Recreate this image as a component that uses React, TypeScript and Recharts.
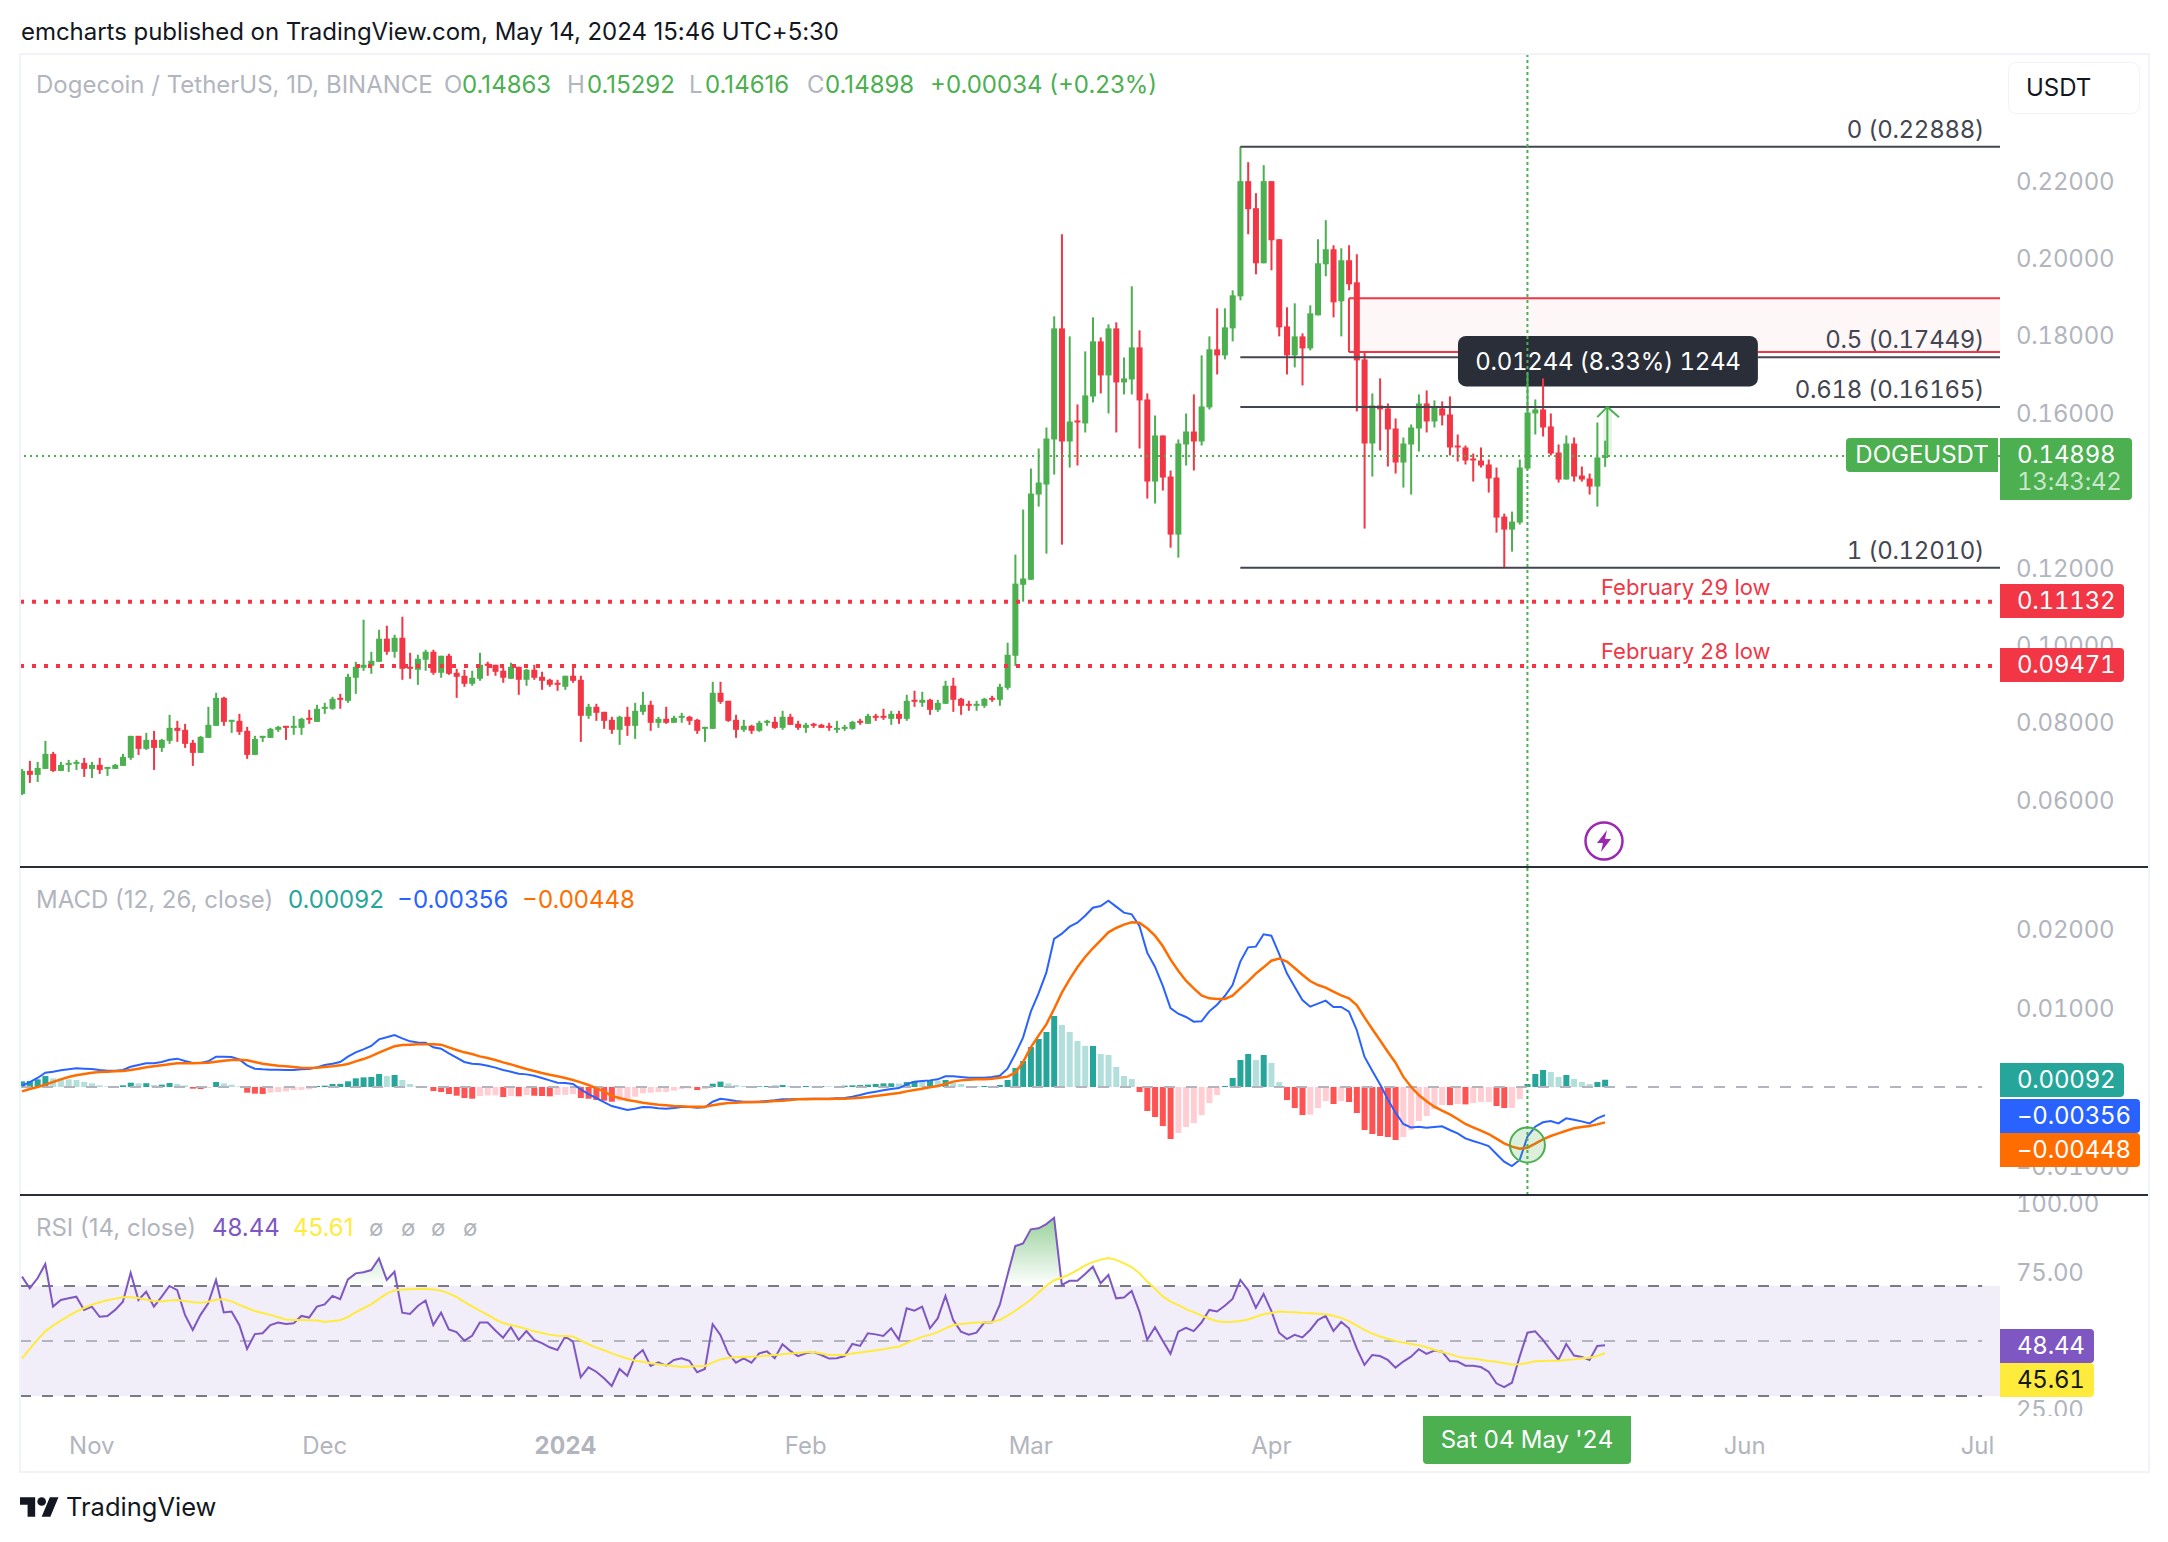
import {
  Area,
  Bar,
  Cell,
  ComposedChart,
  Line,
  ReferenceArea,
  ReferenceDot,
  ReferenceLine,
  XAxis,
  YAxis,
} from 'recharts'

const FONT = 'Inter, "Noto Sans", sans-serif'
const GREEN = '#4caf50'
const RED = '#f23645'
const AXIS_GREY = '#b2b5be'

// days since 23 Oct 2023, one candle per day
const opens = [
  0.06163, 0.06758, 0.06655, 0.0681, 0.07198, 0.06758, 0.06914, 0.0694, 0.06965, 0.0681,
  0.06914, 0.0681, 0.0681, 0.06888, 0.07095, 0.07664, 0.07328, 0.0756, 0.07353, 0.07535,
  0.07871, 0.07819, 0.07483, 0.07224, 0.07612, 0.07923, 0.08647, 0.08026, 0.08052, 0.07793,
  0.07172, 0.07612, 0.07612, 0.07819, 0.07923, 0.07871, 0.07871, 0.0813, 0.08026, 0.08363,
  0.08363, 0.08647, 0.08569, 0.09165, 0.09423, 0.09475, 0.09578, 0.10174, 0.09837, 0.10199,
  0.09449, 0.09372, 0.0963, 0.09837, 0.09294, 0.09734, 0.09294, 0.09216, 0.09009, 0.09139,
  0.09527, 0.09501, 0.09346, 0.09139, 0.09449, 0.09113, 0.09372, 0.09191, 0.09113, 0.09035,
  0.08932, 0.09217, 0.09113, 0.08182, 0.08415, 0.08285, 0.08078, 0.0782, 0.08156, 0.07923,
  0.08285, 0.08466, 0.08001, 0.08104, 0.08001, 0.0813, 0.08156, 0.08078, 0.07845, 0.07845,
  0.08777, 0.0857, 0.08078, 0.0782, 0.07923, 0.07794, 0.08001, 0.08026, 0.07871, 0.08156,
  0.07975, 0.07871, 0.07975, 0.07949, 0.07923, 0.0782, 0.07845, 0.07845, 0.08052, 0.07975,
  0.08182, 0.08182, 0.08104, 0.08233, 0.08104, 0.08596, 0.08518, 0.08596, 0.08337, 0.08492,
  0.08958, 0.08622, 0.08492, 0.0844, 0.0844, 0.08647, 0.08596, 0.08906, 0.09734, 0.11568,
  0.11698, 0.139, 0.14158, 0.15323, 0.18194, 0.15271, 0.15814, 0.15737, 0.16435, 0.17858,
  0.16978, 0.18194, 0.16797, 0.16875, 0.17703, 0.16357, 0.14236, 0.15426, 0.14365, 0.12865,
  0.15193, 0.15529, 0.15271, 0.16151, 0.17651, 0.17496, 0.18194, 0.19022, 0.21998, 0.21299,
  0.19876, 0.21998, 0.20497, 0.18246, 0.17496, 0.17987, 0.17677, 0.18531, 0.1985, 0.20238,
  0.18893, 0.19954, 0.19384, 0.17392, 0.15219, 0.16202, 0.16125, 0.15607, 0.14727, 0.15193,
  0.15607, 0.16254, 0.15788, 0.16125, 0.15969, 0.15167, 0.15116, 0.14831, 0.14779, 0.14676,
  0.14339, 0.1333, 0.12994, 0.13175, 0.14572, 0.15995, 0.16099, 0.15659, 0.14986, 0.14288,
  0.15219, 0.14391, 0.14314, 0.14107, 0.14863,
]
const highs = [
  0.0681, 0.07017, 0.06991, 0.07535, 0.0725, 0.06991, 0.07043, 0.07043, 0.07095, 0.06991,
  0.07095, 0.06862, 0.0694, 0.07198, 0.07664, 0.07664, 0.07742, 0.07793, 0.07586, 0.08207,
  0.08052, 0.07974, 0.0756, 0.07664, 0.08414, 0.08776, 0.08673, 0.08078, 0.08233, 0.07897,
  0.07664, 0.07664, 0.07871, 0.07923, 0.07923, 0.08181, 0.0813, 0.08337, 0.08466, 0.08518,
  0.08673, 0.08751, 0.09268, 0.09578, 0.10665, 0.09837, 0.10406, 0.1051, 0.10277, 0.10743,
  0.09811, 0.0976, 0.09889, 0.09889, 0.09734, 0.09785, 0.09397, 0.09372, 0.09346, 0.09811,
  0.09578, 0.09501, 0.09423, 0.09553, 0.09449, 0.09398, 0.09501, 0.0932, 0.09139, 0.09113,
  0.09217, 0.09475, 0.09217, 0.08492, 0.08492, 0.08285, 0.08156, 0.08182, 0.08415, 0.08518,
  0.08803, 0.0857, 0.08156, 0.08415, 0.08182, 0.08259, 0.08182, 0.08104, 0.07897, 0.09061,
  0.09061, 0.0857, 0.08208, 0.08078, 0.07949, 0.08052, 0.08078, 0.08156, 0.08311, 0.08233,
  0.08052, 0.08001, 0.08001, 0.07975, 0.08001, 0.08052, 0.07949, 0.08052, 0.08104, 0.08233,
  0.08233, 0.08363, 0.08311, 0.08311, 0.08725, 0.08829, 0.08803, 0.08622, 0.08596, 0.09087,
  0.09165, 0.08647, 0.0857, 0.0857, 0.08647, 0.08699, 0.0901, 0.1007, 0.12347, 0.13511,
  0.14572, 0.1509, 0.15633, 0.18505, 0.20626, 0.17987, 0.16228, 0.17599, 0.18479, 0.17961,
  0.18298, 0.1835, 0.17444, 0.19281, 0.18143, 0.16513, 0.15943, 0.15426, 0.14521, 0.15323,
  0.15995, 0.16487, 0.17496, 0.17987, 0.18712, 0.18712, 0.19177, 0.22888, 0.22489, 0.21687,
  0.22411, 0.21998, 0.20497, 0.18738, 0.18841, 0.18065, 0.18789, 0.20497, 0.20989, 0.20342,
  0.20264, 0.20342, 0.20109, 0.17582, 0.16513, 0.16901, 0.16254, 0.15866, 0.15374, 0.15711,
  0.16487, 0.1659, 0.16332, 0.16306, 0.16435, 0.15452, 0.15167, 0.1496, 0.15116, 0.14805,
  0.14598, 0.13408, 0.1346, 0.14805, 0.1703, 0.16357, 0.16901, 0.15995, 0.15193, 0.15426,
  0.15374, 0.14624, 0.14443, 0.15762, 0.15292,
]
const lows = [
  0.06137, 0.06448, 0.06474, 0.0681, 0.06733, 0.06758, 0.06733, 0.06784, 0.06603, 0.06577,
  0.06681, 0.06629, 0.0681, 0.06888, 0.07043, 0.07172, 0.07302, 0.06784, 0.0725, 0.07457,
  0.07509, 0.07353, 0.06888, 0.07224, 0.07612, 0.07923, 0.07923, 0.07742, 0.0769, 0.07069,
  0.07172, 0.07509, 0.07612, 0.07767, 0.0756, 0.0769, 0.0769, 0.07974, 0.08026, 0.08233,
  0.08337, 0.08363, 0.08518, 0.08751, 0.09346, 0.09268, 0.09578, 0.0976, 0.09682, 0.09113,
  0.09139, 0.08983, 0.09346, 0.09242, 0.09165, 0.09242, 0.08647, 0.08932, 0.08958, 0.09087,
  0.09216, 0.09216, 0.09035, 0.09139, 0.08725, 0.08958, 0.09113, 0.08854, 0.08932, 0.08829,
  0.08854, 0.09035, 0.07509, 0.08104, 0.08052, 0.07845, 0.07716, 0.07431, 0.07664, 0.07587,
  0.08208, 0.07794, 0.07871, 0.07975, 0.08001, 0.08001, 0.07949, 0.07716, 0.07509, 0.07845,
  0.08492, 0.08026, 0.07613, 0.07768, 0.07716, 0.07768, 0.07923, 0.07845, 0.0782, 0.07949,
  0.0782, 0.07742, 0.07871, 0.07871, 0.07794, 0.07742, 0.07794, 0.0782, 0.07949, 0.07975,
  0.08052, 0.08078, 0.07949, 0.07975, 0.08052, 0.08415, 0.08415, 0.08208, 0.08285, 0.08492,
  0.08285, 0.08208, 0.08311, 0.08311, 0.08389, 0.08544, 0.0844, 0.08854, 0.09471, 0.11132,
  0.11698, 0.13589, 0.12373, 0.14417, 0.12606, 0.14598, 0.1465, 0.15504, 0.1628, 0.16513,
  0.15995, 0.15504, 0.16487, 0.16487, 0.1509, 0.13796, 0.13667, 0.14003, 0.12528, 0.1227,
  0.1465, 0.14521, 0.15167, 0.16099, 0.17004, 0.17392, 0.17858, 0.18919, 0.20626, 0.19591,
  0.19876, 0.19695, 0.17987, 0.17004, 0.17185, 0.1672, 0.17625, 0.18531, 0.1954, 0.18479,
  0.17987, 0.19177, 0.16047, 0.1302, 0.14365, 0.15038, 0.14624, 0.14443, 0.14081, 0.139,
  0.15012, 0.15504, 0.15633, 0.15685, 0.14909, 0.14753, 0.14676, 0.14236, 0.14598, 0.13951,
  0.12917, 0.1201, 0.12425, 0.13124, 0.14546, 0.15452, 0.154, 0.14909, 0.1421, 0.14288,
  0.14236, 0.14236, 0.139, 0.13589, 0.14616,
]
const closes = [
  0.06758, 0.06655, 0.06836, 0.07198, 0.06758, 0.06914, 0.06965, 0.06991, 0.0681, 0.06914,
  0.06784, 0.06862, 0.06914, 0.07121, 0.07664, 0.07328, 0.0756, 0.07353, 0.0756, 0.07871,
  0.07793, 0.07457, 0.07224, 0.07638, 0.07949, 0.08647, 0.08026, 0.08078, 0.07767, 0.07172,
  0.07586, 0.07664, 0.07845, 0.07897, 0.07871, 0.07923, 0.08104, 0.08078, 0.08363, 0.08414,
  0.08621, 0.08595, 0.0919, 0.09449, 0.09501, 0.09604, 0.10174, 0.09837, 0.10199, 0.09397,
  0.09397, 0.09656, 0.09837, 0.09294, 0.09734, 0.09268, 0.0919, 0.09009, 0.09165, 0.09501,
  0.09475, 0.0932, 0.09165, 0.09449, 0.09113, 0.09372, 0.09165, 0.09087, 0.08984, 0.08984,
  0.09217, 0.09087, 0.08182, 0.08415, 0.08259, 0.08052, 0.0782, 0.08156, 0.07923, 0.08311,
  0.08466, 0.08001, 0.08104, 0.08001, 0.0813, 0.08182, 0.08052, 0.07794, 0.07897, 0.08777,
  0.08544, 0.08052, 0.0782, 0.07923, 0.07794, 0.08001, 0.08052, 0.07871, 0.08156, 0.07949,
  0.07871, 0.07949, 0.07923, 0.07871, 0.07871, 0.07871, 0.07897, 0.08026, 0.08001, 0.08182,
  0.0813, 0.0813, 0.08233, 0.08104, 0.0857, 0.08544, 0.08596, 0.08337, 0.08518, 0.08958,
  0.08596, 0.0844, 0.0844, 0.08492, 0.08622, 0.08596, 0.08932, 0.0976, 0.11597, 0.1173,
  0.13925, 0.1421, 0.15348, 0.18194, 0.15271, 0.15788, 0.15762, 0.16461, 0.17858, 0.16978,
  0.18194, 0.16797, 0.16901, 0.17703, 0.16332, 0.14236, 0.15426, 0.14339, 0.12865, 0.15219,
  0.15529, 0.15271, 0.16176, 0.17651, 0.17496, 0.1822, 0.19048, 0.21998, 0.21273, 0.19876,
  0.21998, 0.20471, 0.1822, 0.17496, 0.17987, 0.17677, 0.18582, 0.19876, 0.20238, 0.18867,
  0.19954, 0.19333, 0.17367, 0.15219, 0.16202, 0.16099, 0.15581, 0.14727, 0.15219, 0.15633,
  0.16254, 0.15788, 0.16151, 0.15943, 0.15116, 0.15116, 0.14779, 0.14779, 0.1465, 0.14314,
  0.13305, 0.12994, 0.13201, 0.14598, 0.16021, 0.16099, 0.15633, 0.1496, 0.14288, 0.15219,
  0.14365, 0.14288, 0.14107, 0.14857, 0.14898,
]

// MACD pane, in units of 0.00001
const macdLine = [
  13, 63, 114, 181, 194, 211, 224, 236, 232, 228, 215, 207, 207, 215, 257, 279, 300, 300, 317, 346,
  359, 329, 304, 304, 325, 384, 384, 380, 350, 274, 232, 224, 219, 219, 215, 215, 224, 228, 249, 279,
  295, 317, 384, 439, 477, 519, 603, 629, 658, 616, 578, 565, 561, 502, 485, 426, 371, 317, 295, 287,
  270, 245, 215, 194, 169, 160, 143, 114, 84, 55, 51, 38, -30, -89, -139, -190, -241, -266, -291, -274,
  -253, -257, -270, -274, -266, -253, -253, -262, -257, -186, -148, -160, -177, -186, -186, -186, -177, -169, -156, -156,
  -152, -148, -148, -148, -148, -143, -139, -122, -101, -76, -59, -42, -25, -13, 34, 68, 76, 84, 97, 135,
  135, 127, 118, 118, 118, 127, 143, 232, 418, 625, 954, 1186, 1447, 1874, 1941, 2030, 2080, 2169, 2270, 2291,
  2359, 2283, 2207, 2186, 2038, 1701, 1523, 1283, 1000, 928, 886, 827, 831, 958, 1042, 1152, 1291, 1587, 1768, 1777,
  1933, 1916, 1684, 1439, 1270, 1101, 1017, 1055, 1093, 1013, 1013, 954, 722, 384, 207, 34, -156, -325, -468, -511,
  -502, -515, -506, -498, -544, -587, -650, -684, -713, -747, -848, -945, -1000, -924, -629, -502, -447, -430, -460, -397,
  -414, -435, -460, -397, -356,
]
const signalLine = [
  -55, -25, 0, 30, 63, 97, 127, 148, 165, 181, 190, 194, 198, 203, 215, 232, 249, 262, 274, 287,
  300, 300, 300, 304, 308, 321, 333, 342, 346, 338, 317, 295, 283, 270, 262, 253, 245, 241, 245, 253,
  262, 274, 291, 325, 354, 392, 435, 477, 515, 532, 536, 540, 540, 540, 536, 502, 468, 439, 418, 388,
  367, 342, 312, 287, 257, 228, 203, 177, 156, 135, 114, 89, 59, 25, -13, -55, -114, -139, -165, -181,
  -198, -211, -224, -232, -241, -245, -249, -249, -249, -232, -215, -203, -198, -194, -194, -190, -186, -177, -173, -165,
  -156, -156, -152, -152, -152, -148, -148, -143, -135, -127, -114, -101, -89, -76, -55, -38, -21, -4, 13, 38,
  68, 84, 93, 97, 97, 106, 118, 131, 181, 317, 502, 650, 793, 987, 1194, 1363, 1515, 1646, 1756, 1857,
  1958, 2013, 2055, 2085, 2080, 2009, 1916, 1785, 1616, 1473, 1346, 1249, 1160, 1123, 1114, 1114, 1156, 1249, 1338, 1435,
  1515, 1599, 1625, 1587, 1507, 1422, 1342, 1291, 1258, 1207, 1160, 1123, 1038, 882, 734, 591, 447, 308, 131, 4,
  -101, -181, -249, -300, -346, -405, -468, -511, -553, -595, -654, -713, -755, -781, -768, -717, -663, -620, -587, -553,
  -523, -506, -494, -473, -448,
]
const macdHist = [
  72, 76, 97, 139, 110, 108, 97, 89, 63, 46, 21, 8, 6, 21, 55, 46, 48, 25, 30, 51,
  38, 21, -21, -25, -13, 63, 46, 30, 8, -72, -84, -88, -72, -63, -55, -38, -36, -30, 13, 17,
  38, 40, 72, 110, 122, 127, 165, 139, 152, 89, 38, 13, 4, -51, -63, -89, -110, -139, -148, -114,
  -106, -105, -127, -114, -118, -101, -110, -114, -118, -101, -100, -89, -139, -148, -165, -173, -186, -173, -156, -122,
  -80, -72, -63, -62, -46, -25, -17, -38, -25, 42, 68, 46, 25, 13, 8, 8, 13, 17, 25, 13,
  8, 13, 8, 13, 8, 13, 17, 21, 25, 30, 38, 46, 47, 44, 63, 76, 72, 84, 80, 89,
  55, 38, 13, 12, 13, 12, 25, 89, 241, 329, 506, 608, 696, 899, 785, 696, 582, 519, 520, 418,
  405, 253, 139, 101, -63, -304, -380, -494, -658, -582, -506, -456, -354, -203, -101, 13, 114, 342, 418, 342,
  405, 304, 63, -165, -266, -354, -350, -266, -177, -215, -177, -190, -329, -544, -595, -620, -633, -671, -633, -544,
  -430, -367, -279, -228, -229, -215, -220, -203, -190, -189, -241, -266, -265, -152, 38, 165, 215, 190, 127, 152,
  101, 63, 38, 63, 92,
]

// RSI pane
const rsiLine = [
  73.4, 69.2, 72.8, 78.0, 62.5, 64.9, 65.5, 66.1, 61.3, 62.5, 58.8, 59.1, 61.3, 64.3, 74.8, 64.9, 67.9, 62.5, 66.1, 70.0,
  68.5, 59.5, 54.0, 59.5, 63.7, 72.2, 60.4, 60.7, 55.8, 47.1, 52.5, 52.8, 55.8, 56.7, 56.2, 56.4, 59.1, 58.5, 62.5, 63.3,
  66.4, 65.2, 72.4, 74.6, 75.0, 75.8, 80.0, 72.2, 75.2, 60.3, 59.8, 62.7, 64.7, 55.8, 60.3, 54.2, 53.2, 50.1, 51.9, 56.7,
  56.7, 53.8, 51.2, 55.0, 50.4, 53.6, 50.4, 49.2, 47.7, 46.7, 51.6, 49.8, 36.8, 40.4, 38.8, 36.4, 33.6, 39.8, 37.3, 44.3,
  46.7, 40.9, 42.2, 41.0, 43.1, 43.7, 42.8, 38.6, 39.8, 56.1, 52.2, 45.5, 42.1, 43.7, 42.1, 45.5, 46.2, 43.7, 48.8, 46.4,
  44.5, 45.5, 46.0, 44.9, 43.6, 43.7, 44.5, 48.9, 48.2, 52.8, 52.4, 51.8, 54.6, 50.4, 61.9, 61.0, 62.5, 54.6, 58.2, 66.4,
  57.6, 53.4, 52.3, 53.0, 56.7, 56.8, 63.1, 74.0, 84.5, 85.5, 90.6, 91.0, 92.5, 94.8, 70.4, 71.9, 71.9, 74.4, 77.0, 71.0,
  74.0, 65.5, 65.8, 68.2, 60.7, 50.4, 55.0, 50.1, 45.3, 53.4, 54.8, 53.6, 56.7, 61.3, 60.7, 62.8, 65.3, 72.2, 68.5, 62.1,
  67.1, 60.9, 53.0, 50.7, 52.2, 51.3, 54.0, 57.6, 59.1, 53.6, 56.9, 54.6, 47.3, 41.3, 44.9, 44.5, 43.1, 40.3, 42.5, 44.3,
  47.0, 45.3, 46.5, 46.1, 42.7, 42.5, 41.0, 41.0, 40.5, 38.8, 34.6, 33.2, 34.8, 44.3, 53.0, 53.5, 50.4, 46.7, 43.1, 48.9,
  44.7, 44.2, 43.1, 48.2, 48.44,
]
const rsiAverage = [
  43.7, 47.1, 50.5, 53.5, 55.6, 57.4, 59.1, 60.7, 62.0, 63.2, 64.1, 64.8, 65.4, 65.9, 65.9, 65.6, 65.0, 64.5, 64.4, 64.7,
  64.9, 64.5, 64.1, 63.9, 64.3, 65.0, 65.2, 64.4, 63.1, 62.0, 60.9, 60.2, 59.5, 58.6, 57.8, 57.6, 57.6, 57.5, 57.4, 56.9,
  57.3, 57.5, 58.8, 60.4, 61.9, 63.3, 65.3, 67.2, 68.4, 68.7, 68.8, 68.9, 69.0, 68.7, 68.3, 67.3, 66.0, 64.2, 62.6, 61.0,
  59.5, 57.9, 56.5, 55.8, 55.2, 54.4, 53.5, 52.9, 52.3, 51.9, 51.8, 51.6, 50.2, 48.8, 47.6, 46.6, 45.5, 44.5, 43.6, 42.8,
  42.4, 41.9, 41.5, 41.2, 40.9, 40.5, 40.7, 40.8, 40.9, 42.1, 43.3, 43.8, 44.1, 44.2, 44.3, 44.4, 44.7, 44.9, 45.2, 45.4,
  45.6, 45.9, 46.0, 45.4, 44.9, 44.9, 44.9, 45.4, 45.8, 46.2, 46.6, 47.0, 47.5, 47.9, 49.2, 50.4, 51.5, 52.2, 53.2, 54.6,
  55.8, 56.2, 56.4, 56.7, 56.7, 56.9, 57.6, 59.2, 61.0, 63.0, 65.0, 67.6, 70.1, 72.1, 73.0, 74.2, 75.8, 77.5, 78.7, 79.6,
  80.2, 79.5, 78.2, 76.9, 74.6, 71.6, 69.0, 66.2, 64.4, 63.0, 61.6, 60.5, 59.2, 58.1, 57.2, 56.9, 57.0, 57.3, 57.8, 58.8,
  59.7, 60.2, 60.7, 60.5, 60.4, 60.2, 60.1, 59.9, 59.7, 59.2, 58.4, 57.2, 55.6, 54.0, 52.7, 51.6, 50.8, 50.0, 49.4, 48.9,
  48.4, 47.7, 46.8, 46.0, 45.2, 44.3, 43.8, 43.6, 43.2, 42.7, 42.4, 41.9, 41.4, 41.5, 42.0, 42.6, 42.7, 42.8, 42.8, 43.1,
  43.3, 43.7, 43.9, 44.5, 45.61,
]

const priceTicks = [0.06, 0.08, 0.1, 0.12, 0.16, 0.18, 0.2, 0.22]
const macdTicks = [-1000, 1000, 2000]
const rsiTicks = [25, 75, 100]
const monthTicks = [9, 39, 70, 101, 130, 161, 191, 222, 252]
const monthLabels = ['Nov', 'Dec', '2024', 'Feb', 'Mar', 'Apr', 'May', 'Jun', 'Jul']
const fibLevels = [
  { label: '0 (0.22888)', price: 0.22888 },
  { label: '0.5 (0.17449)', price: 0.17449 },
  { label: '0.618 (0.16165)', price: 0.16165 },
  { label: '1 (0.12010)', price: 0.1201 },
]
const supportLevels = [
  { label: 'February 29 low', price: 0.11132 },
  { label: 'February 28 low', price: 0.09471 },
]

const LAST_PRICE = 0.14898
const CROSS_DAY = 194
const X_DOMAIN: [number, number] = [-0.26, 254.9]
const PLOT_WIDTH = 2128
const AXIS_WIDTH = 148
const ZONE_TOP = 0.1897
const ZONE_BOTTOM = 0.17582
const ZONE_START = 171
// measure box, reference lines paint over areas so they stop at its edges
const BOX_LEFT = 185.05
const BOX_RIGHT = 223.7
const BOX_TOP = 0.18
const BOX_BOTTOM = 0.16694
const X_END = 254.9

const candleRows = opens.map((open, i) => ({
  idx: i,
  open,
  close: closes[i],
  range: [lows[i], highs[i]],
}))
const macdRows = macdLine.map((v, i) => ({
  idx: i,
  macd: v,
  signal: signalLine[i],
  hist: macdHist[i],
}))
const rsiRows = rsiLine.map((v, i) => ({
  idx: i,
  rsi: v,
  avg: rsiAverage[i],
  over: [70, Math.max(70, v)],
}))

function histColor(i: number) {
  const v = macdHist[i]
  const prev = i > 0 ? macdHist[i - 1] : 0
  if (v >= 0) return v >= prev ? '#26a69a' : '#b2dfdb'
  return v < prev ? '#ff5252' : '#ffcdd2'
}

function Candle(props: any) {
  const { x, y, width, height, payload } = props
  const [low, high] = payload.range
  const perUnit = height / (high - low)
  const up = payload.close >= payload.open
  const color = up ? GREEN : RED
  const bodyTop = y + (high - Math.max(payload.open, payload.close)) * perUnit
  const bodyH = Math.max(2, Math.abs(payload.close - payload.open) * perUnit)
  const cx = x + width / 2
  return (
    <g>
      <rect x={cx - 1} y={y} width={2} height={height} fill={color} />
      <rect x={cx - 3} y={bodyTop} width={6} height={bodyH} fill={color} />
    </g>
  )
}

function LevelLabel(props: any) {
  const { viewBox, text, color, fromRight, dx = 0 } = props
  const x = fromRight ? viewBox.x + viewBox.width - 16 : viewBox.x + dx
  return (
    <text
      x={x}
      y={viewBox.y - (fromRight ? 9 : 6.5)}
      textAnchor={fromRight ? 'end' : 'start'}
      fill={color}
      fontSize={fromRight ? 24 : 22}
      letterSpacing={fromRight ? -0.3 : 0}
      fontFamily={FONT}
    >
      {text}
    </text>
  )
}

function MonthTick(props: any) {
  const { x, y, payload } = props
  const pos = monthTicks.indexOf(payload.value)
  const label = monthLabels[pos]
  return (
    <text
      x={x}
      y={y + 26}
      textAnchor="middle"
      fill={AXIS_GREY}
      fontSize={24}
      fontWeight={label === '2024' ? 700 : 400}
      fontFamily={FONT}
    >
      {label}
    </text>
  )
}

const tickStyle = { fill: AXIS_GREY, fontSize: 24, fontFamily: FONT, letterSpacing: -0.2 }

function box(
  left: number,
  top: number,
  width: number,
  height: number,
  background: string,
  extra: any = {},
) {
  return {
    position: 'absolute' as const,
    left,
    top,
    width,
    height,
    background,
    lineHeight: `${height}px`,
    boxSizing: 'border-box' as const,
    whiteSpace: 'nowrap' as const,
    ...extra,
  }
}

function PriceTag(props: any) {
  const { left = 2000, top, width, height = 34, bg, color = '#fff', text } = props
  return (
    <div
      style={box(left, top, width, height, bg, {
        color,
        fontSize: 24,
        letterSpacing: -0.2,
        paddingLeft: 17,
        borderRadius: '0 4px 4px 0',
      })}
    >
      {text}
    </div>
  )
}

function Legend(props: any) {
  const { top, items } = props
  return (
    <>
      {items.map((it: any) => (
        <span
          key={it.text + it.left}
          style={{
            position: 'absolute',
            left: it.left,
            top,
            lineHeight: '30px',
            fontSize: 24,
            fontVariantNumeric: 'normal',
            color: it.color,
            whiteSpace: 'nowrap',
          }}
        >
          {it.text}
        </span>
      ))}
    </>
  )
}

export default function App() {
  return (
    <div
      style={{
        position: 'absolute',
        left: 0,
        top: 0,
        width: 2168,
        height: 1542,
        background: '#fff',
        overflow: 'hidden',
        fontFamily: FONT,
        fontVariantNumeric: 'tabular-nums',
      }}
    >
      <div style={{ position: 'absolute', left: 21, top: 16, fontSize: 24, fontVariantNumeric: 'normal', letterSpacing: -0.04, lineHeight: '32px', color: '#131722', whiteSpace: 'nowrap' }}>
        emcharts published on TradingView.com, May 14, 2024 15:46 UTC+5:30
      </div>

      {/* price pane */}
      <div style={{ position: 'absolute', left: 20, top: 53 }}>
        <ComposedChart width={PLOT_WIDTH} height={814} data={candleRows} margin={{ top: 0, right: 0, bottom: 0, left: 0 }}>
          <XAxis type="number" dataKey="idx" domain={X_DOMAIN} allowDataOverflow hide />
          <YAxis
            orientation="right"
            width={AXIS_WIDTH}
            domain={[0.04275, 0.2531]}
            allowDataOverflow
            ticks={priceTicks}
            tickFormatter={(v: number) => v.toFixed(5)}
            tick={tickStyle}
            tickLine={false}
            axisLine={false}
            tickMargin={10}
            interval={0}
          />
          <ReferenceArea
            x1={ZONE_START}
            x2={X_END}
            y1={ZONE_BOTTOM}
            y2={ZONE_TOP}
            fill="#f23645"
            fillOpacity={0.04}
            stroke="none"
          />
          <ReferenceLine
            segment={[
              { x: ZONE_START, y: ZONE_TOP },
              { x: X_END, y: ZONE_TOP },
            ]}
            stroke={RED}
            strokeWidth={2}
          />
          <ReferenceLine
            segment={[
              { x: ZONE_START, y: ZONE_BOTTOM },
              { x: BOX_LEFT, y: ZONE_BOTTOM },
            ]}
            stroke={RED}
            strokeWidth={2}
          />
          <ReferenceLine
            segment={[
              { x: BOX_RIGHT, y: ZONE_BOTTOM },
              { x: X_END, y: ZONE_BOTTOM },
            ]}
            stroke={RED}
            strokeWidth={2}
          />
          <ReferenceLine
            segment={[
              { x: ZONE_START, y: ZONE_BOTTOM },
              { x: ZONE_START, y: ZONE_TOP },
            ]}
            stroke={RED}
            strokeWidth={2}
          />
          {fibLevels.map((f) => {
            const crossesBox = f.price > BOX_BOTTOM && f.price < BOX_TOP
            return (
              <ReferenceLine
                key={f.label}
                segment={[
                  { x: crossesBox ? BOX_RIGHT : 157, y: f.price },
                  { x: X_END, y: f.price },
                ]}
                stroke="#434651"
                strokeWidth={2}
                label={<LevelLabel text={f.label} color="#434651" fromRight />}
              />
            )
          })}
          {fibLevels
            .filter((f) => f.price > BOX_BOTTOM && f.price < BOX_TOP)
            .map((f) => (
              <ReferenceLine
                key={`${f.label}-left`}
                segment={[
                  { x: 157, y: f.price },
                  { x: BOX_LEFT, y: f.price },
                ]}
                stroke="#434651"
                strokeWidth={2}
              />
            ))}
          <ReferenceArea
            x1={BOX_LEFT}
            x2={BOX_RIGHT}
            y1={BOX_BOTTOM}
            y2={BOX_TOP}
            fill="#2a2e39"
            fillOpacity={1}
            radius={8}
            label={{ value: '0.01244 (8.33%) 1244', position: 'center', fill: '#fff', fontSize: 24, letterSpacing: -0.25, fontFamily: FONT }}
          />
          <Bar dataKey="range" barSize={6} shape={<Candle />} isAnimationActive={false} />
          <ReferenceLine y={LAST_PRICE} stroke={GREEN} strokeWidth={2} strokeDasharray="2 4" />
          {supportLevels.map((s) => (
            <ReferenceLine
              key={s.label}
              segment={[
                { x: -0.26, y: s.price },
                { x: 253.9, y: s.price },
              ]}
              stroke={RED}
              strokeWidth={4}
              strokeDasharray="4 8"
              label={<LevelLabel text={s.label} color={RED} dx={1581} />}
            />
          ))}
          <ReferenceLine x={CROSS_DAY} stroke={GREEN} strokeWidth={2} strokeDasharray="3 3" />
          <ReferenceArea x1={203.8} x2={204.9} y1={LAST_PRICE} y2={0.1614} fill={GREEN} fillOpacity={0.14} />
          <ReferenceLine
            segment={[
              { x: 204.3, y: LAST_PRICE },
              { x: 204.3, y: 0.16165 },
            ]}
            stroke={GREEN}
            strokeWidth={2}
          />
          <ReferenceLine
            segment={[
              { x: 203, y: 0.159 },
              { x: 204.3, y: 0.16165 },
            ]}
            stroke={GREEN}
            strokeWidth={2}
          />
          <ReferenceLine
            segment={[
              { x: 205.8, y: 0.159 },
              { x: 204.3, y: 0.16165 },
            ]}
            stroke={GREEN}
            strokeWidth={2}
          />
        </ComposedChart>
      </div>

      {/* MACD pane */}
      <div style={{ position: 'absolute', left: 20, top: 867 }}>
        <ComposedChart width={PLOT_WIDTH} height={328} data={macdRows} margin={{ top: 0, right: 0, bottom: 0, left: 0 }}>
          <XAxis type="number" dataKey="idx" domain={X_DOMAIN} allowDataOverflow hide />
          <YAxis
            orientation="right"
            width={AXIS_WIDTH}
            domain={[-1367, 2785]}
            allowDataOverflow
            ticks={macdTicks}
            tickFormatter={(v: number) => (v / 100000).toFixed(5).replace('-', '\u2212')}
            tick={tickStyle}
            tickLine={false}
            axisLine={false}
            tickMargin={10}
            interval={0}
          />
          <ReferenceLine
            segment={[
              { x: -0.26, y: 0 },
              { x: 252.6, y: 0 },
            ]}
            stroke={AXIS_GREY}
            strokeWidth={2}
            strokeDasharray="11 11"
          />
          <Bar dataKey="hist" barSize={6} isAnimationActive={false}>
            {macdRows.map((r) => (
              <Cell key={r.idx} fill={histColor(r.idx)} />
            ))}
          </Bar>
          <Line dataKey="macd" stroke="#2962ff" strokeWidth={2} dot={false} activeDot={false} type="linear" isAnimationActive={false} />
          <Line dataKey="signal" stroke="#ff6d00" strokeWidth={2.5} dot={false} activeDot={false} type="linear" isAnimationActive={false} />
          <ReferenceLine x={CROSS_DAY} stroke={GREEN} strokeWidth={2} strokeDasharray="3 3" />
          <ReferenceDot x={CROSS_DAY} y={-734} r={17.5} fill={GREEN} fillOpacity={0.2} stroke={GREEN} strokeWidth={2} />
        </ComposedChart>
      </div>

      {/* RSI pane, clipped so the 25.00 tick is cut like the reference */}
      <div style={{ position: 'absolute', left: 20, top: 1195, width: PLOT_WIDTH, height: 221, overflow: 'hidden' }}>
        <ComposedChart width={PLOT_WIDTH} height={221} data={rsiRows} margin={{ top: 0, right: 0, bottom: 0, left: 0 }}>
          <defs>
            <linearGradient id="overbought" x1="0" y1="0" x2="0" y2="1">
              <stop offset="0%" stopColor={GREEN} stopOpacity={0.95} />
              <stop offset="100%" stopColor={GREEN} stopOpacity={0} />
            </linearGradient>
          </defs>
          <XAxis type="number" dataKey="idx" domain={X_DOMAIN} allowDataOverflow hide />
          <YAxis
            orientation="right"
            width={AXIS_WIDTH}
            domain={[22.7, 103.1]}
            allowDataOverflow
            ticks={rsiTicks}
            tickFormatter={(v: number) => v.toFixed(2)}
            tick={tickStyle}
            tickLine={false}
            axisLine={false}
            tickMargin={10}
            interval={0}
          />
          <ReferenceArea y1={30} y2={70} fill="#7e57c2" fillOpacity={0.1} stroke="none" />
          <ReferenceLine
            segment={[
              { x: -0.26, y: 70 },
              { x: 252.6, y: 70 },
            ]}
            stroke="#787b86"
            strokeWidth={2}
            strokeDasharray="11 11"
          />
          <ReferenceLine
            segment={[
              { x: -0.26, y: 50 },
              { x: 252.6, y: 50 },
            ]}
            stroke={AXIS_GREY}
            strokeWidth={2}
            strokeDasharray="11 11"
          />
          <ReferenceLine
            segment={[
              { x: -0.26, y: 30 },
              { x: 252.6, y: 30 },
            ]}
            stroke="#787b86"
            strokeWidth={2}
            strokeDasharray="11 11"
          />
          <Area dataKey="over" stroke="none" fill="url(#overbought)" type="linear" dot={false} activeDot={false} isAnimationActive={false} />
          <Line dataKey="rsi" stroke="#7e57c2" strokeWidth={2} dot={false} activeDot={false} type="linear" isAnimationActive={false} />
          <Line dataKey="avg" stroke="#ffeb3b" strokeWidth={2} dot={false} activeDot={false} type="linear" isAnimationActive={false} />
        </ComposedChart>
      </div>

      {/* time axis */}
      <div style={{ position: 'absolute', left: 20, top: 1416 }}>
        <ComposedChart width={PLOT_WIDTH} height={56} data={rsiRows} margin={{ top: 0, right: 0, bottom: 0, left: 0 }}>
          <XAxis
            type="number"
            dataKey="idx"
            domain={X_DOMAIN}
            allowDataOverflow
            ticks={monthTicks}
            interval={0}
            tick={<MonthTick />}
            tickLine={false}
            axisLine={false}
            height={52}
          />
          <YAxis orientation="right" width={AXIS_WIDTH} tick={false} tickLine={false} axisLine={false} />
          <Line dataKey="rsi" stroke="none" dot={false} activeDot={false} isAnimationActive={false} />
        </ComposedChart>
      </div>

      {/* frame and pane separators */}
      <div style={{ position: 'absolute', left: 19, top: 53, width: 2131, height: 1420, border: '2px solid #f0f3fa', boxSizing: 'border-box', pointerEvents: 'none' }} />
      <div style={box(20, 866, 2128, 2, '#2a2e39')} />
      <div style={box(20, 1193.5, 2128, 2, '#2a2e39')} />

      <Legend
        top={70}
        items={[
          { left: 36, text: 'Dogecoin / TetherUS, 1D, BINANCE', color: AXIS_GREY },
          { left: 444, text: 'O', color: AXIS_GREY },
          { left: 462, text: '0.14863', color: GREEN },
          { left: 567, text: 'H', color: AXIS_GREY },
          { left: 587, text: '0.15292', color: GREEN },
          { left: 689, text: 'L', color: AXIS_GREY },
          { left: 705, text: '0.14616', color: GREEN },
          { left: 807, text: 'C', color: AXIS_GREY },
          { left: 825, text: '0.14898', color: GREEN },
          { left: 930, text: '+0.00034 (+0.23%)', color: GREEN },
        ]}
      />
      <Legend
        top={885}
        items={[
          { left: 36, text: 'MACD (12, 26, close)', color: AXIS_GREY },
          { left: 288, text: '0.00092', color: '#26a69a' },
          { left: 397, text: '\u22120.00356', color: '#2962ff' },
          { left: 522, text: '\u22120.00448', color: '#ff6d00' },
        ]}
      />
      <Legend
        top={1213}
        items={[
          { left: 36, text: 'RSI (14, close)', color: AXIS_GREY },
          { left: 212, text: '48.44', color: '#7e57c2' },
          { left: 293, text: '45.61', color: '#ffeb3b' },
          { left: 369, text: '\u00f8', color: AXIS_GREY },
          { left: 401, text: '\u00f8', color: AXIS_GREY },
          { left: 431, text: '\u00f8', color: AXIS_GREY },
          { left: 463, text: '\u00f8', color: AXIS_GREY },
        ]}
      />

      {/* scale tags */}
      <div style={box(2008, 62, 132, 52, '#fff', { border: '1.5px solid #f0f3fa', borderRadius: 8, paddingLeft: 17, fontSize: 24, color: '#131722', lineHeight: '49px' })}>
        USDT
      </div>
      <div style={box(1846, 438, 152, 34, GREEN, { color: '#fff', fontSize: 24, textAlign: 'center', borderRadius: '4px 0 0 4px' })}>
        DOGEUSDT
      </div>
      <div style={box(2000, 438, 132, 62, GREEN, { borderRadius: '0 4px 4px 0' })} />
      <div style={{ position: 'absolute', left: 2017, top: 440, fontSize: 24, letterSpacing: -0.2, lineHeight: '30px', color: '#fff' }}>0.14898</div>
      <div style={{ position: 'absolute', left: 2017, top: 467, fontSize: 24, letterSpacing: -0.2, lineHeight: '30px', color: '#c8e6c9' }}>13:43:42</div>
      <PriceTag top={584} width={124} bg={RED} text="0.11132" />
      <PriceTag top={648} width={124} bg={RED} text="0.09471" />
      <PriceTag top={1063} width={124} bg="#26a69a" text="0.00092" />
      <PriceTag top={1099} width={140} bg="#2962ff" text={'\u22120.00356'} />
      <PriceTag top={1133} width={140} bg="#ff6d00" text={'\u22120.00448'} />
      <PriceTag top={1329} width={94} bg="#7e57c2" text="48.44" />
      <PriceTag top={1363} width={94} bg="#ffeb3b" color="#131722" text="45.61" />

      <div style={box(1423, 1416, 208, 48, GREEN, { color: '#fff', fontSize: 24, letterSpacing: -0.1, textAlign: 'center', borderRadius: '0 0 4px 4px' })}>
        {"Sat 04 May '24"}
      </div>

      {/* dividends icon */}
      <svg style={{ position: 'absolute', left: 1584, top: 821 }} width={40} height={40} viewBox="0 0 40 40">
        <circle cx={20} cy={20} r={18.5} fill="#fff" stroke="#9c27b0" strokeWidth={2.5} />
        <path d="M23 9 L13 22 H19 L17 31 L27 18 H21 Z" fill="#9c27b0" />
      </svg>

      {/* TradingView mark */}
      <svg style={{ position: 'absolute', left: 20, top: 1495 }} width={39} height={26} viewBox="0 0 36 24">
        <path d="M14 20H7V9H0V2h14v18zM28 20h-8l7.5-18h8L28 20z" fill="#131722" />
        <circle cx={20} cy={6} r={4} fill="#131722" />
      </svg>
      <div style={{ position: 'absolute', left: 66, top: 1491, fontSize: 25.5, lineHeight: '32px', color: '#131722' }}>TradingView</div>
    </div>
  )
}
